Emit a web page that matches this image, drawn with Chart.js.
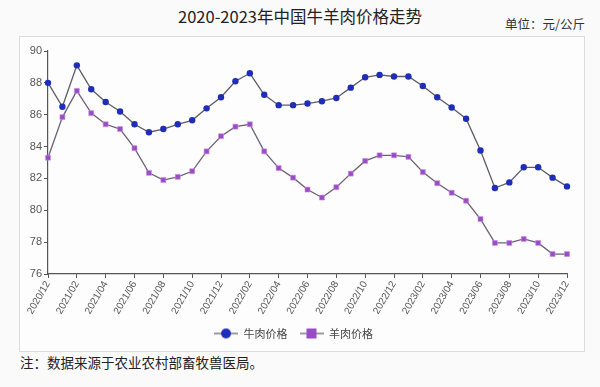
<!DOCTYPE html>
<html>
<head>
<meta charset="utf-8">
<script src="https://cdn.jsdelivr.net/npm/chart.js@4"></script>
<style>
  html, body { margin: 0; padding: 0; background: #fafafa; }
  #page { position: relative; width: 600px; height: 387px; overflow: hidden; font-family: "Noto Sans CJK SC", sans-serif; }
  #title { position: absolute; left: 0; width: 600px; top: 4px; text-align: center; font-size: 16.5px; color: #222; }
  #unit { position: absolute; right: 15px; top: 14px; font-size: 12.5px; color: #333; }
  #box { position: absolute; left: 19px; top: 36px; width: 564px; height: 314px; border: 1px solid #dcdcdc; background: #fdfdfd; }
  #note { position: absolute; left: 20px; top: 352px; font-size: 13.5px; color: #222; }
</style>
</head>
<body>
<div id="page">
  <div id="title">2020-2023年中国牛羊肉价格走势</div>
  <div id="unit">单位：元/公斤</div>
  <div id="box"><canvas id="chart" width="564" height="314"></canvas></div>
  <div id="note">注：数据来源于农业农村部畜牧兽医局。</div>
</div>
<script>
(function() {
	'use strict';

	var months = [
		'2020/12', '2021/01', '2021/02', '2021/03', '2021/04', '2021/05', '2021/06',
		'2021/07', '2021/08', '2021/09', '2021/10', '2021/11', '2021/12',
		'2022/01', '2022/02', '2022/03', '2022/04', '2022/05', '2022/06',
		'2022/07', '2022/08', '2022/09', '2022/10', '2022/11', '2022/12',
		'2023/01', '2023/02', '2023/03', '2023/04', '2023/05', '2023/06',
		'2023/07', '2023/08', '2023/09', '2023/10', '2023/11', '2023/12'
	];
	var beef = [88.0, 86.5, 89.1, 87.6, 86.8, 86.2, 85.4, 84.9, 85.1, 85.4, 85.65, 86.4, 87.1,
		88.1, 88.6, 87.25, 86.6, 86.6, 86.7, 86.85, 87.05, 87.7, 88.35, 88.5,
		88.4, 88.4, 87.8, 87.1, 86.45, 85.75, 83.75, 81.4, 81.75, 82.7, 82.7, 82.05, 81.5];
	var mutton = [83.3, 85.85, 87.5, 86.1, 85.4, 85.1, 83.9, 82.35, 81.9, 82.1, 82.45, 83.7, 84.65,
		85.25, 85.4, 83.7, 82.65, 82.05, 81.3, 80.8, 81.45, 82.3, 83.1, 83.45,
		83.45, 83.35, 82.4, 81.7, 81.1, 80.6, 79.45, 77.95, 77.95, 78.2, 77.95, 77.25, 77.25];
	var yTicks = [76, 78, 80, 82, 84, 86, 88, 90];

	var lineColor = '#5c5c68';
	var beefColor = '#1f2db8';
	var muttonColor = '#9a4cc4';

	// legend icon: short line with the marker on it
	function legendIcon(color, square) {
		var c = document.createElement('canvas');
		c.width = 24; c.height = 12;
		var g = c.getContext('2d');
		g.strokeStyle = lineColor;
		g.lineWidth = 1.2;
		g.beginPath(); g.moveTo(0, 6); g.lineTo(24, 6); g.stroke();
		g.fillStyle = color;
		if (square) {
			g.fillRect(7, 1, 10, 10);
		} else {
			g.beginPath(); g.arc(12, 6, 5, 0, Math.PI * 2); g.fill();
		}
		return c;
	}

	var beefIcon = legendIcon(beefColor, false);
	var muttonIcon = legendIcon(muttonColor, true);

	new Chart(document.getElementById('chart'), {
		type: 'line',
		data: {
			labels: months,
			datasets: [
				{ label: '牛肉价格', data: beef, borderColor: lineColor, borderWidth: 1.3,
					pointStyle: 'circle', pointRadius: 3.2, pointBackgroundColor: beefColor,
					pointBorderColor: beefColor, pointBorderWidth: 0, tension: 0 },
				{ label: '羊肉价格', data: mutton, borderColor: '#6e6078', borderWidth: 1.3,
					pointStyle: 'rect', pointRadius: 3.5, pointBackgroundColor: muttonColor,
					pointBorderColor: 'rgba(200,140,230,0.6)', pointBorderWidth: 1, tension: 0 }
			]
		},
		options: {
			responsive: false,
			animation: false,
			layout: { padding: { left: 0, right: 17, top: 14, bottom: 2 } },
			plugins: {
				tooltip: { enabled: false },
				legend: {
					position: 'bottom',
					labels: {
						usePointStyle: true,
						pointStyleWidth: 24,
						padding: 12,
						color: '#444',
						font: { size: 11, family: '"Noto Sans CJK SC", sans-serif' },
						generateLabels: function(chart) {
							return chart.data.datasets.map(function(ds, i) {
								return {
									text: ds.label,
									pointStyle: i === 0 ? beefIcon : muttonIcon,
									fillStyle: 'transparent',
									strokeStyle: 'transparent',
									lineWidth: 0,
									fontColor: '#444',
									datasetIndex: i
								};
							});
						}
					}
				}
			},
			scales: {
				x: {
					type: 'category',
					offset: false,
					afterFit: function(s) { s.height = 42; },
					border: { color: '#555', width: 1.2 },
					grid: {
						drawOnChartArea: false,
						tickLength: 4,
						tickColor: function(ctx) { return ctx.index % 2 ? 'transparent' : '#555'; }
					},
					ticks: {
						autoSkip: false,
						maxRotation: 60,
						minRotation: 60,
						padding: 1,
						color: '#555',
						font: { size: 10, family: '"Liberation Sans", sans-serif' },
						callback: function(v, i) { return i % 2 ? '' : months[i]; }
					}
				},
				y: {
					min: yTicks[0],
					max: yTicks[yTicks.length - 1],
					afterFit: function(s) { s.width = 28; },
					afterBuildTicks: function(s) { s.ticks = yTicks.map(function(v) { return { value: v }; }); },
					border: { color: '#555', width: 1.2 },
					grid: { drawOnChartArea: false, tickLength: 4, tickColor: '#555' },
					ticks: {
						padding: 2,
						color: '#555',
						font: { size: 11, family: '"Liberation Sans", sans-serif' }
					}
				}
			}
		}
	});
})();
</script>
</body>
</html>
